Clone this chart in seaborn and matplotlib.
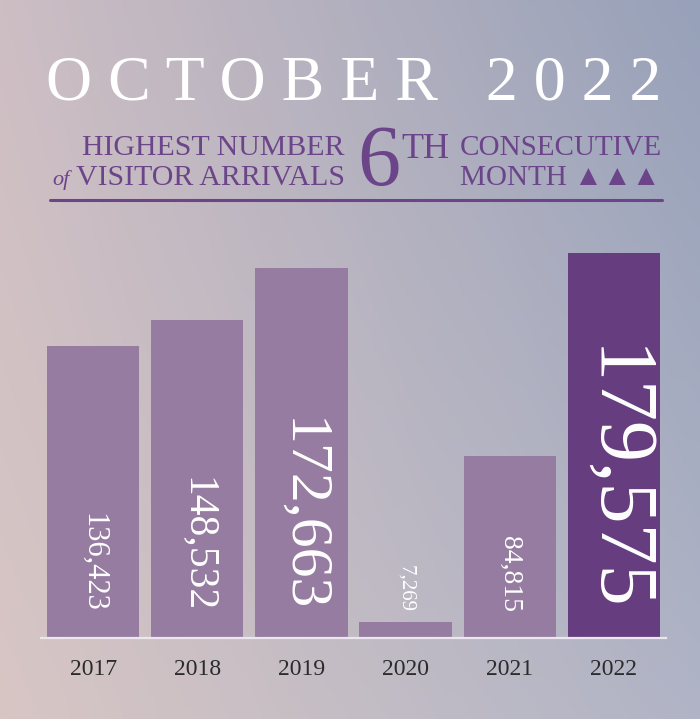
import numpy as np
import pandas as pd
import matplotlib
matplotlib.use("Agg")
import matplotlib.pyplot as plt
import seaborn as sns
from matplotlib.colors import to_rgb

# data
years = ["2017", "2018", "2019", "2020", "2021", "2022"]
arrivals = [136423, 148532, 172663, 7269, 84815, 179575]

# styling
LIGHT_BAR = "#957ca0"
HIGHLIGHT_BAR = "#663d7f"
PURPLE = "#6b4489"
LABEL_SIZES = [22, 30, 43, 15, 20, 59]
SERIF = ["Liberation Serif", "DejaVu Serif"]

sns.set_style("white")
plt.rcParams["font.family"] = SERIF

W, H = 700, 719
fig = plt.figure(figsize=(W / 100, H / 100), dpi=100)

# gradient background (bilinear between four corner colours)
tl, tr = np.array(to_rgb("#cdbec4")), np.array(to_rgb("#97a1b9"))
bl, br = np.array(to_rgb("#d8c6c4")), np.array(to_rgb("#b0b4c6"))
u = np.linspace(0, 1, 200)[None, :, None]
v = np.linspace(0, 1, 200)[:, None, None]
grad = (1 - v) * ((1 - u) * tl + u * tr) + v * ((1 - u) * bl + u * br)
bg = fig.add_axes([0, 0, 1, 1], zorder=-10)
bg.imshow(grad, aspect="auto", extent=[0, 1, 0, 1])
bg.axis("off")

# bar chart
ax = fig.add_axes([41 / W, (H - 638) / H, 625 / W, 396.6 / H])
ax.patch.set_alpha(0)
df = pd.DataFrame({"year": years, "arrivals": arrivals})
palette = [LIGHT_BAR] * (len(years) - 1) + [HIGHLIGHT_BAR]
sns.barplot(data=df, x="year", y="arrivals", hue="year", palette=palette,
            width=0.885, saturation=1, legend=False, linewidth=0,
            edgecolor="none", ax=ax)
ax.set_xlim(-0.5, len(years) - 0.5)
ax.set_ylim(0, 185000)
ax.set_xlabel("")
ax.set_ylabel("")
ax.set_yticks([])
for side in ["top", "right", "left"]:
    ax.spines[side].set_visible(False)
ax.spines["bottom"].set_color("#ece6ee")
ax.spines["bottom"].set_linewidth(1.6)
ax.tick_params(axis="x", length=0, pad=15, labelsize=17, labelcolor="#2b2b2b")

for i, (val, fs) in enumerate(zip(arrivals, LABEL_SIZES)):
    ax.annotate(f"{val:,}", (i, 0), xytext=(0, 18.5), textcoords="offset points",
                rotation=-90, rotation_mode="anchor", ha="right", va="center",
                color="white", fontsize=fs)

# header
def fy(py):
    return 1 - py / H

fig.text(354 / W, fy(85), "O C T O B E R   2 0 2 2", color="white",
         fontsize=46, ha="center", va="center")

fig.text(345 / W, fy(155), "HIGHEST NUMBER", color=PURPLE, fontsize=21.5,
         ha="right", va="baseline")
fig.text(345 / W, fy(185), "VISITOR ARRIVALS", color=PURPLE, fontsize=21.5,
         ha="right", va="baseline")
fig.text(52 / W, fy(185), "of", color=PURPLE, fontsize=16, style="italic",
         ha="left", va="baseline")
fig.text(357 / W, fy(185), "6", color=PURPLE, fontsize=62, ha="left",
         va="baseline")
fig.text(401 / W, fy(158), "TH", color=PURPLE, fontsize=26, ha="left",
         va="baseline")
fig.text(460 / W, fy(155), "CONSECUTIVE", color=PURPLE, fontsize=21,
         ha="left", va="baseline")
fig.text(460 / W, fy(185), "MONTH ▲▲▲", color=PURPLE, fontsize=21,
         ha="left", va="baseline", family=["Liberation Serif", "DejaVu Sans"])
fig.add_artist(plt.Line2D([50 / W, 662 / W], [fy(200), fy(200)],
                          color=PURPLE, linewidth=2.2))

fig.savefig("out.png", dpi=100)
